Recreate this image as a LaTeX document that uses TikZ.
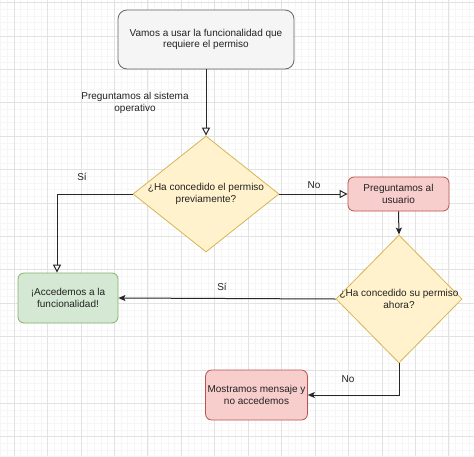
\documentclass[tikz,border=0pt]{standalone}
\usepackage{fontspec}
\setmainfont{Liberation Sans}
\usetikzlibrary{arrows.meta,shapes.geometric}
\definecolor{gfill}{HTML}{F5F5F5}
\definecolor{gline}{HTML}{666666}
\definecolor{yfill}{HTML}{FFF2CC}
\definecolor{yline}{HTML}{D6B656}
\definecolor{rfill}{HTML}{F8CECC}
\definecolor{rline}{HTML}{B85450}
\definecolor{vfill}{HTML}{D5E8D4}
\definecolor{vline}{HTML}{82B366}
\definecolor{gridmajor}{HTML}{E2E2E2}
\definecolor{gridminor}{HTML}{F6F6F6}
\definecolor{txt}{HTML}{222222}
\begin{document}
\begin{tikzpicture}[x=1pt,y=-1pt,
  font=\fontsize{10}{11.5}\selectfont, text=txt,
  box/.style={rounded corners=6pt, line width=0.8pt, align=center, inner sep=2pt},
  greybox/.style={box, draw=gline, fill=gfill, rounded corners=9pt},
  redbox/.style={box, draw=rline, fill=rfill},
  greenbox/.style={box, draw=vline, fill=vfill},
  dia/.style={diamond, draw=yline, fill=yfill, line width=0.8pt, inner sep=0pt},
  lbl/.style={align=center, inner sep=1pt},
  conn/.style={draw=black!85, line width=1pt},
  openarrow/.style={conn, -{Triangle[open, length=8pt, width=8pt]}},
  fillarrow/.style={conn, -{Stealth[length=7pt, width=6pt, inset=1.5pt]}}]
\useasboundingbox (0,0) rectangle (474,456);
\fill[white] (0,0) rectangle (474,456);
% grid
\foreach \i in {-2,...,71} {
  \draw[gridminor, line width=0.5pt] ({14+6.69*\i},0) -- ({14+6.69*\i},456);
  \draw[gridminor, line width=0.5pt] (0,{2.5+6.68*\i}) -- (474,{2.5+6.68*\i});
}
\foreach \i in {0,...,14} {
  \draw[gridmajor, line width=0.8pt] ({14+33.45*\i},0) -- ({14+33.45*\i},456);
  \draw[gridmajor, line width=0.8pt] (0,{2.5+33.4*\i}) -- (474,{2.5+33.4*\i});
}
% nodes
\node[greybox, minimum width=176pt, minimum height=59pt] (start) at (206,39.5)
  {Vamos a usar la funcionalidad que\\requiere el permiso};
\node[dia, minimum width=146pt, minimum height=116pt] (d1) at (206,194) {};
\node[lbl] (d1t) at (d1.center) {¿Ha concedido el permiso\\previamente?};
\node[redbox, minimum width=101pt, minimum height=34pt] (r1) at (398.5,194)
  {Preguntamos al\\usuario};
\node[dia, minimum width=126pt, minimum height=128pt] (d2) at (399,299) {};
\node[lbl] (d2t) at (d2.center) {¿Ha concedido su permiso\\ahora?};
\node[greenbox, minimum width=100pt, minimum height=50pt] (ok) at (68,298)
  {¡Accedemos a la\\funcionalidad!};
\node[redbox, minimum width=101pt, minimum height=50pt] (r2) at (256.5,395)
  {Mostramos mensaje y\\no accedemos};
% connectors
\draw[openarrow] (start.south) -- (d1.north);
\node[lbl] (l1) at (135,103) {Preguntamos al sistema\\operativo};
\draw[openarrow] (d1.west) -| ([xshift=-11pt]ok.north);
\node[lbl] (l2) at (82,177) {Sí};
\draw[openarrow] (d1.east) -- (r1.west);
\node[lbl] (l3) at (314,185) {No};
\draw[fillarrow] (r1.south) -- (d2.north);
\draw[fillarrow] (d2.west) -- (ok.east);
\node[lbl] (l4) at (222,287) {Sí};
\draw[fillarrow] (d2.south) |- (r2.east);
\node[lbl] (l5) at (348,379) {No};
\end{tikzpicture}
\end{document}
